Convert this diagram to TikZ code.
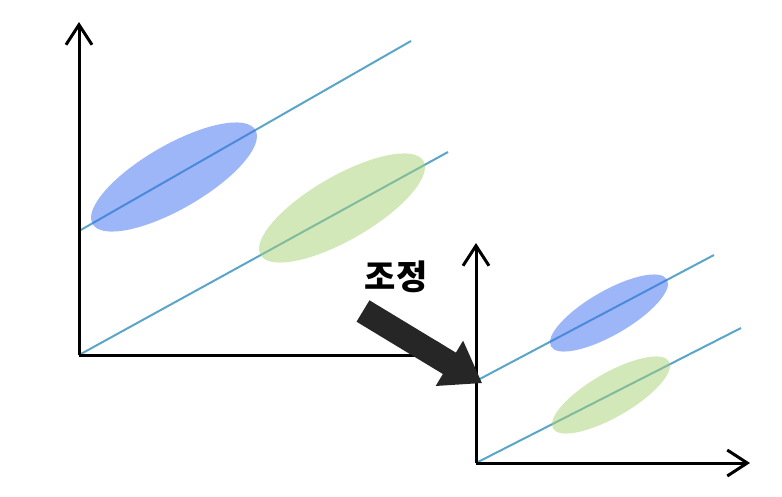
\documentclass[tikz,border=0pt]{standalone}
\usepackage{fontspec}
\newfontfamily\kofont{Noto Sans CJK KR}
\usepackage{tikz}
\usetikzlibrary{arrows.meta}

\definecolor{trendcol}{RGB}{90,165,200}
\definecolor{bluecol}{RGB}{60,110,240}
\definecolor{greencol}{RGB}{167,209,115}
\definecolor{arrowcol}{RGB}{38,38,38}

\tikzset{
  axis/.style={line width=3pt,-{Straight Barb[length=20pt,width=26pt]}},
  trend/.style={trendcol,line width=2pt},
  bluecloud/.style={fill=bluecol,fill opacity=.5},
  greencloud/.style={fill=greencol,fill opacity=.5}
}

\begin{document}
\begin{tikzpicture}[x=1pt,y=-1pt]

\useasboundingbox (0,0) rectangle (782,496);

% left plot
\coordinate (O1) at (79,355);
\coordinate (Y1) at (79,22);
\coordinate (X1) at (458,355);
\coordinate (A1) at (79,231);
\coordinate (B1) at (411,41);
\coordinate (C1) at (448,152);

\draw [trend] (A1) -- (B1);
\draw [trend] (O1) -- (C1);

\fill [bluecloud,rotate around={30:(174,177)}] (174,177) ellipse (94 and 32);
\fill [greencloud,rotate around={30:(342,208)}] (342,208) ellipse (94 and 32);

\draw [axis] (O1) -- (Y1);
\draw [axis] (O1) -- (X1);

% right plot
\coordinate (O2) at (476,463);
\coordinate (Y2) at (476,243);
\coordinate (X2) at (750,463);
\coordinate (A2) at (476,381);
\coordinate (B2) at (714,255);
\coordinate (C2) at (741,328);

\draw [trend] (A2) -- (B2);
\draw [trend] (O2) -- (C2);

\fill [bluecloud,rotate around={30:(609,313)}] (609,313) ellipse (67 and 22);
\fill [greencloud,rotate around={30:(611,395)}] (611,395) ellipse (67 and 22);

\draw [axis] (O2) -- (Y2);
\draw [axis] (O2) -- (X2);

% big arrow
\begin{scope}[shift={(363,311)},rotate=-31.2]
\fill [arrowcol] (0,-12.5) -- (101,-12.5) -- (101,-26.5) -- (139,0)
  -- (101,26.5) -- (101,12.5) -- (0,12.5) -- cycle;
\end{scope}

\node (adjust) at (396,277) {\kofont\bfseries\fontsize{34}{38}\selectfont 조정};

\end{tikzpicture}
\end{document}
